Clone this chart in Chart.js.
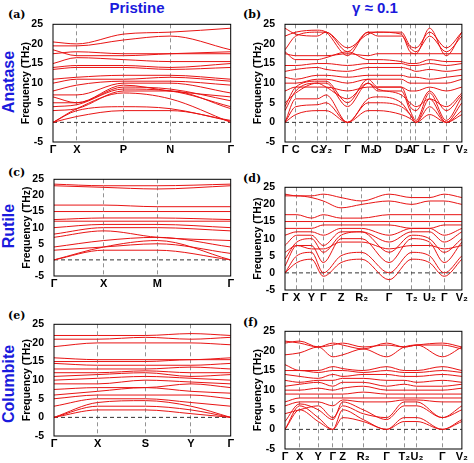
<!DOCTYPE html>
<html>
<head>
<meta charset="utf-8">
<script src="https://cdn.jsdelivr.net/npm/chart.js@4/dist/chart.umd.min.js"></script>
<style>
  body { margin: 0; background: #fff; width: 474px; height: 463px; position: relative; overflow: hidden; font-family: Arial, "Liberation Sans", sans-serif; }
  .wrap { position: absolute; }
  .title { position: absolute; color: #1a1adc; font-weight: bold; font-size: 15px; transform: translateX(-50%); white-space: nowrap; }
  .row { position: absolute; color: #1a1adc; font-weight: bold; font-size: 16px; transform: translate(-50%, -50%) rotate(-90deg); white-space: nowrap; }
  .tag { position: absolute; font-family: "DejaVu Serif", "Liberation Serif", serif; font-weight: bold; font-size: 11px; }
</style>
</head>
<body>
<div class="title" style="left:137px;top:-1px">Pristine</div>
<div class="title" style="left:375px;top:-1px">γ ≈ 0.1</div>
<div class="row" style="left:9px;top:82px">Anatase</div>
<div class="row" style="left:9px;top:226px">Rutile</div>
<div class="row" style="left:9px;top:384px">Columbite</div>
<div class="tag" style="left:8px;top:8px">(a)</div>
<div class="tag" style="left:243px;top:8px">(b)</div>
<div class="tag" style="left:8px;top:166px">(c)</div>
<div class="tag" style="left:243px;top:172px">(d)</div>
<div class="tag" style="left:8px;top:309px">(e)</div>
<div class="tag" style="left:243px;top:316px">(f)</div>

<script>
// 高對稱點位置與標籤
const kA = [0, 24, 71, 118, 179];
const labA = ['Γ', 'X', 'P', 'N', 'Γ'];
const bandsA = [
    [0, 1.5, 3, 3, 0.5], [0, 3, 4, 3.5, 0.3], [0, 3.5, 7.5, 6, 0],
    [3, 3.5, 8, 8, 3.5], [4, 4.5, 8.5, 8, 4], [5, 5, 9, 8.5, 5.5],
    [6.5, 5, 9.5, 8, 6.5], [7, 7, 10, 10, 7.5], [8, 9.5, 10.5, 10.5, 9.5],
    [10, 11, 11, 11.5, 10.5], [11, 11.5, 12, 12, 11], [13.5, 14, 14, 13.5, 14],
    [14, 14.5, 14.5, 14, 15], [15, 16.5, 16, 15.5, 15.5], [17.5, 18, 17.5, 17.5, 17.5],
    [18.5, 17, 17, 17.5, 18], [19.5, 19.5, 21, 22, 18.5], [20.5, 20, 22.5, 23, 24],
];

const kB = [0, 11, 33, 42, 64, 85, 95, 119, 128, 134, 148, 165, 181];
const labB = ['Γ', 'C', 'C₂', 'Y₂', 'Γ', 'M₂', 'D', 'D₂', 'A', 'Γ', 'L₂', 'Γ', 'V₂'];
const bandsB = [
    [0, 2, 3, 3, 0, 3, 3, 2, 1, 0, 2, 0, 2],
    [0, 4, 4.5, 5, 0, 5, 5, 4, 2, 0, 4, 0, 3],
    [0, 6, 6, 7, 0, 6, 6.5, 5, 2, 0, 6, 0, 5],
    [3, 8, 10, 10, 4, 10, 8, 8, 3, 0.5, 7.5, 0.5, 6.5],
    [4, 9, 10.5, 10.5, 5, 11, 9, 9, 4, 3, 8, 3, 7],
    [5, 7.5, 10, 9, 6, 10, 8.5, 7, 5, 4, 6, 4, 7.5],
    [8, 9, 9, 9, 8, 9, 9, 9, 8, 8, 9, 8, 9],
    [10, 10, 11, 11, 10, 11, 11, 11, 10, 10, 10, 10, 11],
    [11.5, 11, 12, 12, 11.5, 12, 12, 12, 11.5, 11.5, 11, 11.5, 12],
    [13, 13.5, 14, 13.5, 13, 14, 14, 14, 13.5, 13, 13.5, 13, 13.5],
    [14.5, 14.5, 15, 15, 14.5, 15, 15, 15, 14.5, 14.5, 15, 14.5, 15],
    [17.5, 17, 17, 17, 17.5, 17, 17.5, 17.5, 17.5, 17.5, 17.5, 17.5, 17.5],
    [18, 16, 16, 16.5, 18, 16, 16, 15.5, 15, 15, 16, 15.5, 15.5],
    [18.5, 22, 23, 23, 18, 23, 22, 22, 19, 18, 22, 18, 22],
    [24, 22.5, 22, 23, 19, 22.5, 23, 23, 19.5, 19, 23, 19, 23],
    [22, 23, 23.5, 23, 17, 23, 23, 22.5, 18, 17.5, 24, 17, 23],
];

const kC = [0, 50, 104, 178];
const labC = ['Γ', 'X', 'M', 'Γ'];
const bandsC = [
    [0, 3, 3, 0], [0, 4, 6, 0], [3, 4, 5, 2], [4, 6, 7, 4], [7, 9, 7, 6],
    [8, 10, 10, 9], [10, 11, 11, 10], [12, 12, 12, 12], [12.5, 13, 13, 12.5],
    [15, 15, 15, 15], [17, 17, 16.5, 16.5], [23, 22.5, 22, 23], [23.5, 23, 23, 23.5],
];

const kD = [0, 12, 27, 39, 57, 78, 106, 129, 147, 162, 180];
const labD = ['Γ', 'X', 'Y', 'Γ', 'Z', 'R₂', 'Γ', 'T₂', 'U₂', 'Γ', 'V₂'];
const bandsD = [
    [0, 3, 4, -1, 3, 4, -2, 4, 3, -1, 4],
    [0, 5, 6, 0, 5, 6, 0, 6, 5, 0, 5],
    [2, 8, 8, 3, 10, 10, 3, 10, 9, 3, 9],
    [4, 9, 10, 6, 11, 12, 6, 11, 10, 6, 10],
    [6, 8, 7, 7, 9, 9, 7, 8, 8, 7, 8],
    [8, 11, 11, 8, 12, 12, 9, 12, 12, 9, 12],
    [11, 12, 12, 11, 13, 13, 11, 13, 13, 11, 13],
    [13, 13, 13, 14, 14, 14, 14, 13, 13, 14, 14],
    [15, 15, 15, 15, 15, 15, 15, 15, 15, 15, 15],
    [17, 17, 16, 17, 16, 16, 17, 17, 17, 17, 17],
    [22.5, 22.5, 22, 21, 19, 20, 21, 20, 21, 21, 20],
    [23, 22.5, 22.5, 23, 22, 21, 23, 22, 22, 23, 22],
];

const kE = [0, 44, 92, 138, 178];
const labE = ['Γ', 'X', 'S', 'Y', 'Γ'];
const bandsE = [
    [0, 2, 2, 1, 0], [0, 3, 3, 2, 0], [0, 4, 4.5, 3, 0], [3, 5, 5, 4, 3],
    [5, 6, 6, 6, 5], [6, 7, 8, 7, 6.5], [7.5, 8, 8, 9, 8], [9, 9, 10, 9.5, 9],
    [10, 10.5, 11, 10.5, 10], [11, 11.5, 12, 11, 11.5], [12, 12, 12.5, 12, 12],
    [13, 13, 13, 13.5, 13], [14.5, 14, 14, 14, 14.5], [15, 15, 15, 15.5, 15.5],
    [16, 15.5, 15.5, 15.5, 16], [19, 20, 20, 20, 19.5], [21, 21, 21.5, 21, 21.5],
    [22, 22, 22, 22.5, 22],
];

const kF = [0, 15, 34, 49, 59, 80, 104, 122, 135, 161, 181];
const labF = ['Γ', 'X', 'Y', 'Γ', 'Z', 'R₂', 'Γ', 'T₂', 'U₂', 'Γ', 'V₂'];
const bandsF = [
    [0, 5, 2, 0, 3, 2, 0, 2, 2, 0, 2],
    [0, 6, 3, 0, 5, 2.5, 0, 3, 3, 0, 2.5],
    [2, 6.5, 5, 2.5, 7, 5, 2.5, 6, 6, 3, 5],
    [4, 5, 6, 3, 6, 4, 3, 7, 7, 3, 6],
    [6, 7, 7, 6, 7.5, 7, 7, 7.5, 7.5, 7, 7],
    [7, 8, 8, 8, 8, 8, 8, 8, 8, 8, 8],
    [9, 9, 9, 9, 9, 9.5, 9, 9, 9, 9, 9],
    [10, 10, 10.5, 10, 10.5, 11, 10, 10, 10, 10, 10.5],
    [11, 11.5, 12, 11, 12, 12, 11, 11.5, 11, 11, 11.5],
    [12.5, 12, 12.5, 12.5, 13, 13, 12.5, 12.5, 12, 12.5, 12],
    [14, 13.5, 13, 14, 13.5, 14, 14, 13.5, 13.5, 14, 13.5],
    [15, 15, 14.5, 15, 15, 14.5, 15, 14.5, 14.5, 15, 14.5],
    [16.5, 15, 15, 16, 15.5, 15, 16, 15, 15, 16, 15],
    [19, 19.5, 21, 18.5, 19, 20.5, 18.5, 21, 21.5, 18.5, 21],
    [22.5, 22, 21, 22, 21.5, 20.5, 22, 21, 21.5, 22, 21],
    [22, 22.5, 21, 21.5, 22, 21, 21.5, 21, 21.5, 21.5, 20.5],
];

const Y_W = 33;  // y 軸寬度
const X_H = 15;  // x 軸高度

// 外框
const boxPlugin = {
    id: 'box',
    afterDraw(chart) {
        const a = chart.chartArea;
        const c = chart.ctx;
        c.save();
        c.strokeStyle = '#000';
        c.lineWidth = 1;
        c.strokeRect(a.left, a.top, a.right - a.left, a.bottom - a.top);
        c.restore();
    },
};

function makePanel(plot, kpts, labels, bands) {
    const wrap = document.createElement('div');
    wrap.className = 'wrap';
    const left = plot.L - Y_W;
    const top = plot.T - 6;
    const w = plot.R - left + 3;
    const h = plot.B - top + X_H;
    wrap.style.left = left + 'px';
    wrap.style.top = top + 'px';
    wrap.style.width = w + 'px';
    wrap.style.height = h + 'px';
    const cv = document.createElement('canvas');
    wrap.appendChild(cv);
    document.body.appendChild(wrap);

    const kmax = kpts[kpts.length - 1];
    const datasets = bands.map((b) => ({
        data: b.map((v, i) => ({ x: kpts[i], y: v })),
        borderColor: 'rgb(232, 20, 20)',
        borderWidth: 1,
        pointRadius: 0,
        cubicInterpolationMode: 'monotone',
    }));
    datasets.push({
        data: [{ x: 0, y: 0 }, { x: kmax, y: 0 }],
        borderColor: '#333',
        borderWidth: 1,
        borderDash: [4, 3],
        pointRadius: 0,
    });

    new Chart(cv, {
        type: 'line',
        data: { datasets },
        plugins: [boxPlugin],
        options: {
            responsive: true,
            maintainAspectRatio: false,
            animation: false,
            layout: { padding: { top: 6, right: 3, left: 0, bottom: 0 } },
            plugins: { legend: { display: false }, tooltip: { enabled: false } },
            scales: {
                x: {
                    type: 'linear',
                    min: 0,
                    max: kmax,
                    afterBuildTicks: (s) => { s.ticks = kpts.map((v) => ({ value: v })); },
                    afterFit: (s) => { s.height = X_H; },
                    ticks: {
                        autoSkip: false,
                        maxRotation: 0,
                        padding: 1,
                        color: '#000',
                        font: { size: 11, weight: 'bold', family: 'Arial' },
                        callback: (v, i) => labels[i],
                    },
                    grid: {
                        color: (c) => (c.index === 0 || c.index === kpts.length - 1) ? 'rgba(0,0,0,0)' : '#777',
                        lineWidth: 0.8,
                        tickLength: 0,
                    },
                    border: { display: false, dash: [4, 3] },
                },
                y: {
                    min: -5,
                    max: 25,
                    afterBuildTicks: (s) => { s.ticks = [-5, 0, 5, 10, 15, 20, 25].map((v) => ({ value: v })); },
                    afterFit: (s) => { s.width = Y_W; },
                    ticks: {
                        autoSkip: false,
                        padding: 2,
                        color: '#000',
                        font: { size: 10.5, weight: 'bold', family: 'Arial' },
                    },
                    grid: { display: false },
                    border: { display: false },
                    title: {
                        display: true,
                        text: 'Frequency (THz)',
                        color: '#000',
                        padding: 0,
                        font: { size: 10.5, weight: 'bold', family: 'Arial' },
                    },
                },
            },
        },
    });
}

makePanel({ L: 53, R: 232, T: 22, B: 142 }, kA, labA, bandsA);
makePanel({ L: 285, R: 466, T: 22, B: 142 }, kB, labB, bandsB);
makePanel({ L: 54, R: 232, T: 177, B: 276 }, kC, labC, bandsC);
makePanel({ L: 285, R: 466, T: 185, B: 290 }, kD, labD, bandsD);
makePanel({ L: 54, R: 232, T: 322, B: 436 }, kE, labE, bandsE);
makePanel({ L: 285, R: 466, T: 329, B: 449 }, kF, labF, bandsF);
</script>
</body>
</html>
